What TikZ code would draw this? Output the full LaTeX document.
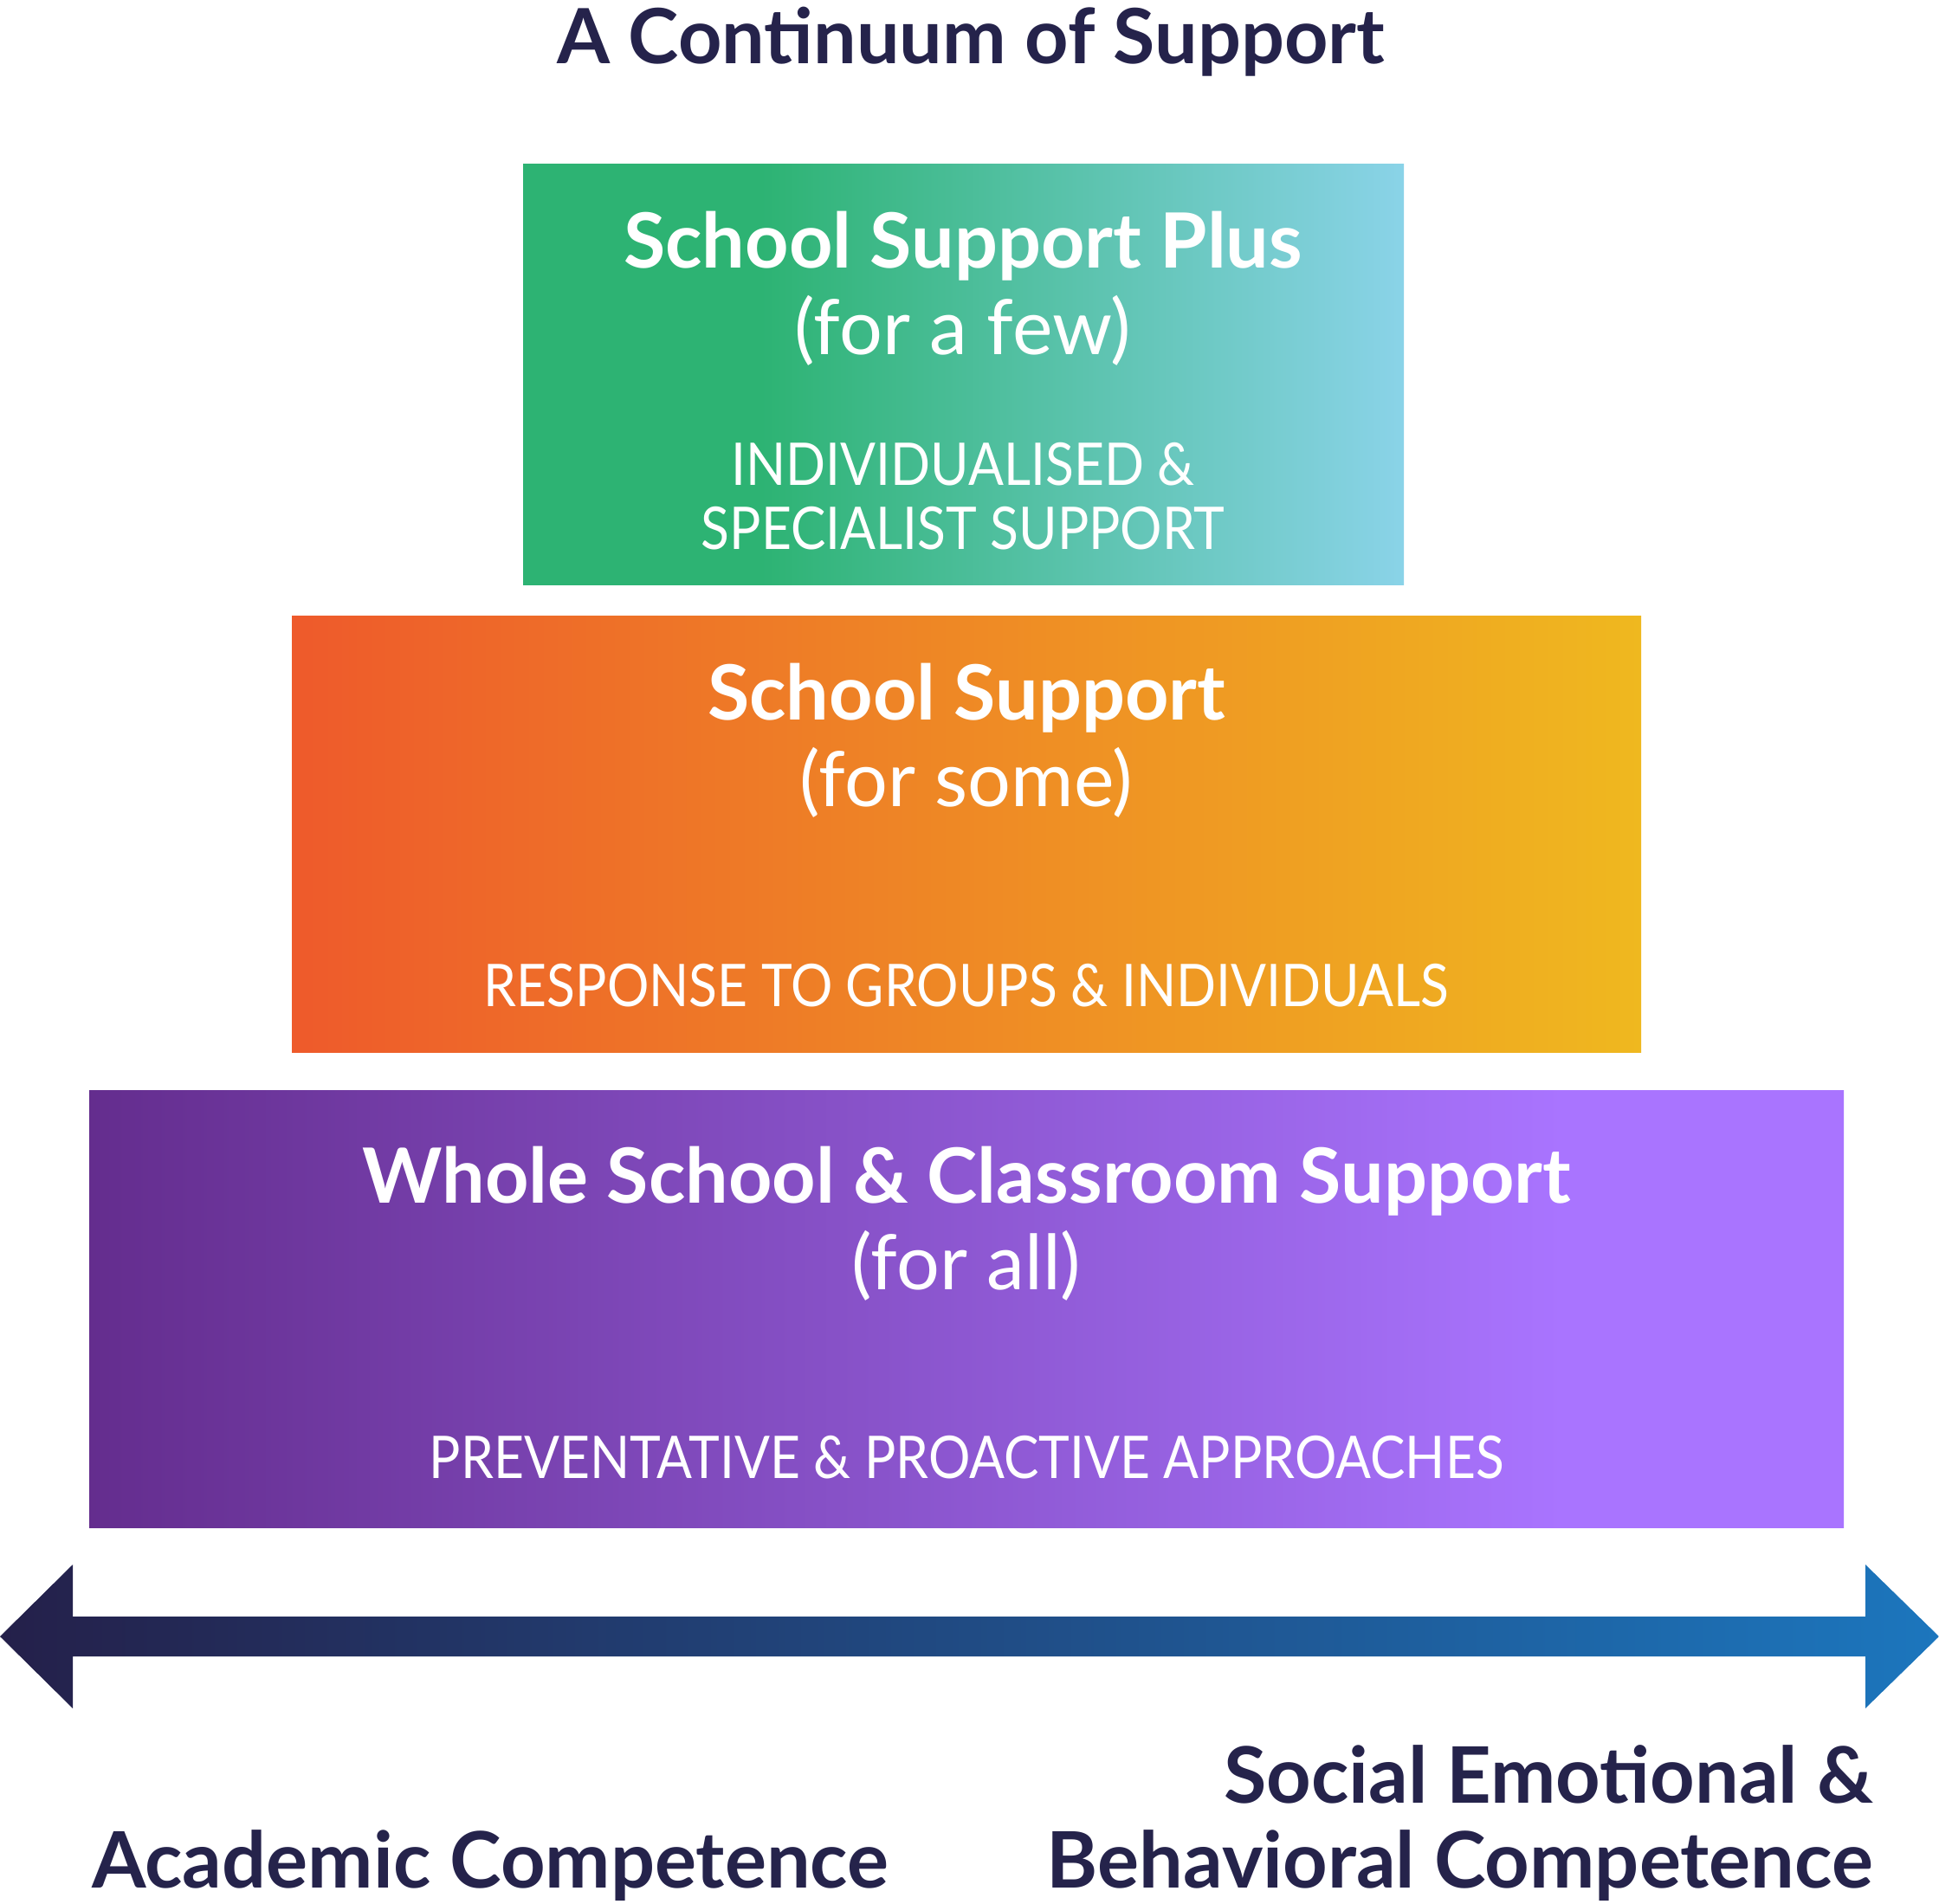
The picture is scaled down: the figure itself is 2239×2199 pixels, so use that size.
\documentclass[tikz,border=0pt]{standalone}
\usepackage{fontspec}
\setmainfont{Lato}
\newfontfamily\capfont[FakeStretch=0.89]{Lato}
\definecolor{navy}{HTML}{25234B}
\definecolor{grnA}{HTML}{2DB373}
\definecolor{blueA}{HTML}{8AD3E8}
\definecolor{orA}{HTML}{EE5A2B}
\definecolor{yeA}{HTML}{EFB81F}
\definecolor{puA}{HTML}{642D8E}
\definecolor{puB}{HTML}{A974FF}
\definecolor{arA}{HTML}{24204A}
\definecolor{arB}{HTML}{1C76BD}
\pgfdeclarehorizontalshading{topshade}{100bp}{color(0bp)=(grnA); color(25bp)=(grnA); color(38.5bp)=(grnA); color(75bp)=(blueA); color(100bp)=(blueA)}
\pgfdeclarehorizontalshading{midshade}{100bp}{color(0bp)=(orA); color(25bp)=(orA); color(75bp)=(yeA); color(100bp)=(yeA)}
\pgfdeclarehorizontalshading{botshade}{100bp}{color(0bp)=(puA); color(25bp)=(puA); color(67bp)=(puB); color(100bp)=(puB)}
\pgfdeclarehorizontalshading{arrshade}{100bp}{color(0bp)=(arA); color(25bp)=(arA); color(75bp)=(arB); color(100bp)=(arB)}
\begin{document}
\begin{tikzpicture}[x=1pt,y=-1pt,
  titletext/.style={font=\bfseries\fontsize{88}{100}\selectfont, text=navy, inner sep=0},
  axistext/.style={font=\bfseries\fontsize{90}{100}\selectfont, text=navy, inner sep=0},
  headtext/.style={font=\bfseries\fontsize{88}{100}\selectfont, text=white, anchor=base, inner sep=0},
  subtext/.style={font=\fontsize{88}{100}\selectfont, text=white, anchor=base, inner sep=0},
  captext/.style={font=\capfont\fontsize{68}{80}\selectfont, text=white, anchor=base, inner sep=0},
]
\useasboundingbox (0,0) rectangle (2239,2199);
% title
\node[titletext, anchor=base] (title) at (1121,74) {A Continuum of Support};
% top box
\path[shading=topshade] (604,190) rectangle (1621,675);
\node[headtext] (h1) at (1112,310) {School Support Plus};
\node[subtext] (s1) at (1112,410) {(for a few)};
\node[captext] (c1a) at (1112,560) {INDIVIDUALISED \&};
\node[captext] (c1b) at (1112,634) {SPECIALIST SUPPORT};
% middle box
\path[shading=midshade] (337,711) rectangle (1895,1215);
\node[headtext] (h2) at (1116,831) {School Support};
\node[subtext] (s2) at (1116,931) {(for some)};
\node[captext] (c2) at (1116,1162) {RESPONSE TO GROUPS \& INDIVIDUALS};
% bottom box
\path[shading=botshade] (103,1259) rectangle (2129,1764);
\node[headtext] (h3) at (1116,1389) {Whole School \& Classroom Support};
\node[subtext] (s3) at (1116,1489) {(for all)};
\node[captext] (c3) at (1116,1707) {PREVENTATIVE \& PROACTIVE APPROACHES};
% double arrow
\path[shading=arrshade] (0,1890) -- (84,1807) -- (84,1867) -- (2154,1867) -- (2154,1807)
  -- (2239,1890) -- (2154,1973) -- (2154,1913) -- (84,1913) -- (84,1973) -- cycle;
% axis labels
\node[axistext, anchor=base east] (se1) at (2163,2082) {Social Emotional \&};
\node[axistext, anchor=base east] (se2) at (2163,2180) {Behavioral Competence};
\node[axistext, anchor=base west] (ac) at (106,2180) {Academic Competence};
\end{tikzpicture}
\end{document}
